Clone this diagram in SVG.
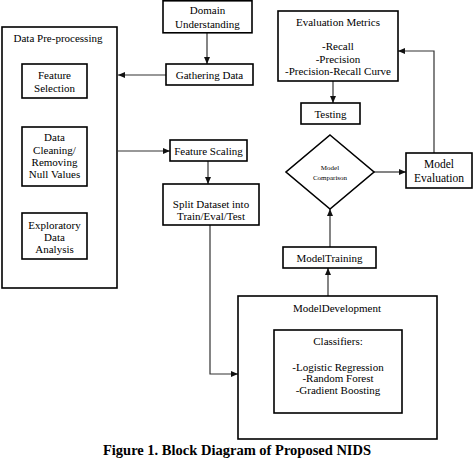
<svg xmlns="http://www.w3.org/2000/svg" width="474" height="466" viewBox="0 0 474 466">
<defs>
<style>
.box{fill:#fff;stroke:#000;stroke-width:1.6}
.t{font-family:'Liberation Serif','Times New Roman',serif;font-size:11px;fill:#000;text-anchor:middle}
.c{fill:none;stroke:#333;stroke-width:1.2}
</style>
<marker id="ah" viewBox="0 0 7 6" refX="7" refY="3" markerWidth="7" markerHeight="6" markerUnits="userSpaceOnUse" orient="auto">
<path d="M0,0 L7,3 L0,6 z" fill="#111"/>
</marker>
</defs>
<rect width="474" height="466" fill="#fff"/>

<g id="connectors">
<line class="c" x1="207" y1="33" x2="207" y2="64" marker-end="url(#ah)"/>
<line class="c" x1="166" y1="75" x2="118" y2="75" marker-end="url(#ah)"/>
<line class="c" x1="52" y1="98" x2="52" y2="127" marker-end="url(#ah)"/>
<line class="c" x1="52" y1="186" x2="52" y2="213" marker-end="url(#ah)"/>
<line class="c" x1="118" y1="151" x2="170" y2="151" marker-end="url(#ah)"/>
<line class="c" x1="208" y1="161" x2="208" y2="184" marker-end="url(#ah)"/>
<polyline class="c" points="210,225 210,374 238,374" marker-end="url(#ah)"/>
<line class="c" x1="328" y1="296" x2="328" y2="268" marker-end="url(#ah)"/>
<line class="c" x1="330" y1="247" x2="330" y2="209" marker-end="url(#ah)"/>
<line class="c" x1="374" y1="172" x2="406" y2="172" marker-end="url(#ah)"/>
<polyline class="c" points="434,153 434,51 398,51" marker-end="url(#ah)"/>
<line class="c" x1="333" y1="81" x2="333" y2="103" marker-end="url(#ah)"/>
</g>

<g font-family="'Liberation Serif', 'Times New Roman', serif">
<g id="domain-understanding">
<rect class="box" x="163" y="0.8" width="89" height="32"/>
<text class="t" x="207.5" y="14">Domain</text>
<text class="t" x="207.5" y="28">Understanding</text>
</g>

<g id="gathering-data">
<rect class="box" x="166" y="64" width="87" height="21"/>
<text class="t" x="209.5" y="79">Gathering Data</text>
</g>

<g id="data-preprocessing">
<rect class="box" x="2" y="27" width="115" height="261"/>
<text class="t" x="58" y="42">Data Pre-processing</text>
</g>

<g id="feature-selection">
<rect class="box" x="22" y="64" width="65" height="34"/>
<text class="t" x="54.5" y="79">Feature</text>
<text class="t" x="54.5" y="92">Selection</text>
</g>

<g id="data-cleaning">
<rect class="box" x="22" y="127" width="65" height="59"/>
<text class="t" x="54.5" y="141">Data</text>
<text class="t" x="54.5" y="154">Cleaning/</text>
<text class="t" x="54.5" y="166">Removing</text>
<text class="t" x="54.5" y="178">Null Values</text>
</g>

<g id="exploratory-data-analysis">
<rect class="box" x="22" y="213" width="65" height="46"/>
<text class="t" x="54.5" y="229">Exploratory</text>
<text class="t" x="54.5" y="241">Data</text>
<text class="t" x="54.5" y="253">Analysis</text>
</g>

<g id="feature-scaling">
<rect class="box" x="170" y="140" width="77" height="21"/>
<text class="t" x="208.5" y="155">Feature Scaling</text>
</g>

<g id="split-dataset">
<rect class="box" x="163" y="184" width="96" height="41"/>
<text class="t" x="211" y="208">Split Dataset into</text>
<text class="t" x="211" y="220">Train/Eval/Test</text>
</g>

<g id="model-development">
<rect class="box" x="238" y="296" width="199" height="143"/>
<text class="t" x="337" y="312">ModelDevelopment</text>
</g>

<g id="classifiers">
<rect class="box" x="274" y="330" width="128" height="83"/>
<text class="t" x="338" y="345">Classifiers:</text>
<text class="t" x="338" y="371">-Logistic Regression</text>
<text class="t" x="338" y="382">-Random Forest</text>
<text class="t" x="338" y="394">-Gradient Boosting</text>
</g>

<g id="model-training">
<rect class="box" x="283" y="247" width="93" height="21"/>
<text class="t" x="329.5" y="262">ModelTraining</text>
</g>

<g id="model-comparison">
<polygon class="box" points="330,135 374,172 330,209 286,172"/>
<text class="t" x="330" y="170" style="font-size:7px">Model</text>
<text class="t" x="330" y="180" style="font-size:7px">Comparison</text>
</g>

<g id="model-evaluation">
<rect class="box" x="406" y="153" width="66" height="35"/>
<text class="t" x="439" y="168" style="font-size:11.5px">Model</text>
<text class="t" x="439" y="181.5" style="font-size:11.5px">Evaluation</text>
</g>

<g id="evaluation-metrics">
<rect class="box" x="278" y="11" width="120" height="70"/>
<text class="t" x="338" y="26">Evaluation Metrics</text>
<text class="t" x="338" y="50">-Recall</text>
<text class="t" x="338" y="63">-Precision</text>
<text class="t" x="338" y="75">-Precision-Recall Curve</text>
</g>

<g id="testing">
<rect class="box" x="301" y="103" width="59" height="21"/>
<text class="t" x="330.5" y="118">Testing</text>
</g>
</g>

<text x="237" y="455" font-family="'Liberation Serif', 'Times New Roman', serif" font-size="14.5" font-weight="bold" text-anchor="middle">Figure 1. Block Diagram of Proposed NIDS</text>
</svg>
